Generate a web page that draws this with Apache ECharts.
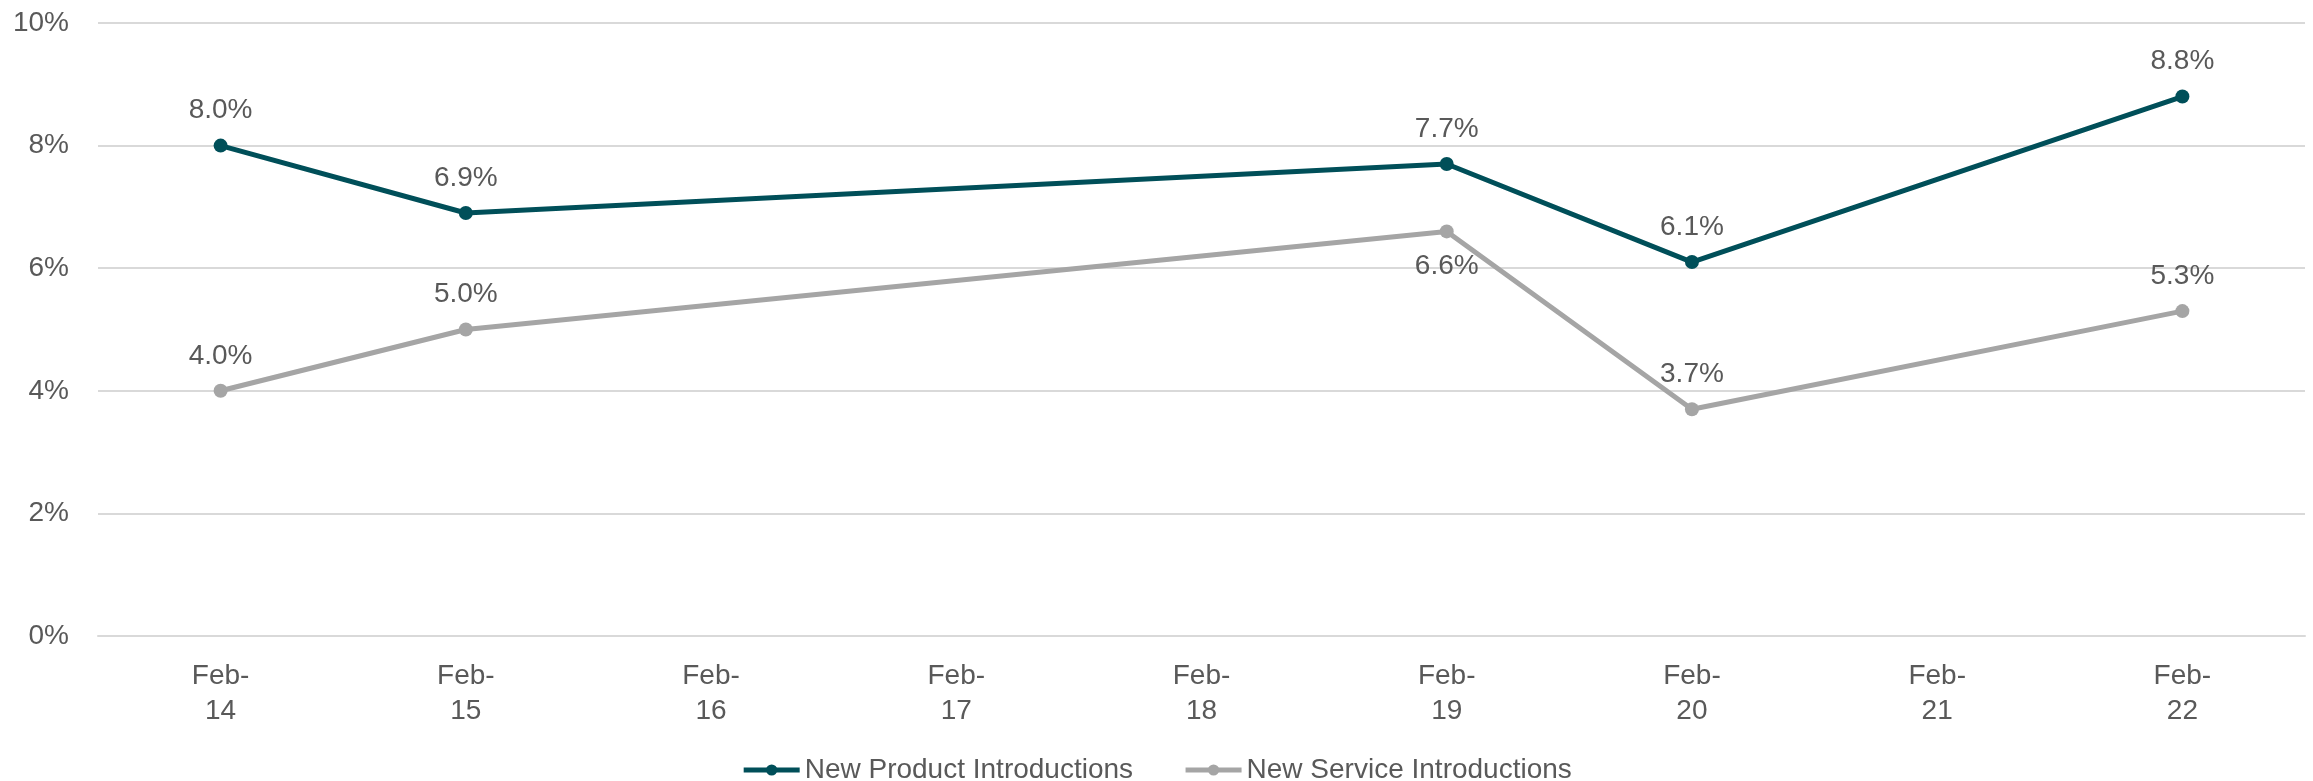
<!DOCTYPE html>
<html>
<head>
<meta charset="utf-8">
<script src="https://cdn.jsdelivr.net/npm/echarts@6/dist/echarts.min.js"></script>
<style>
html,body{margin:0;padding:0;background:#fff;}
#c{width:2313px;height:781px;}
</style>
</head>
<body>
<div id="c"></div>
<script>
const categories = ['Feb-14','Feb-15','Feb-16','Feb-17','Feb-18','Feb-19','Feb-20','Feb-21','Feb-22'];
const productValues = [8.0, 6.9, null, null, null, 7.7, 6.1, null, 8.8];
const serviceValues = [4.0, 5.0, null, null, null, 6.6, 3.7, null, 5.3];
const serviceLabelBelow = [false, false, false, false, false, true, false, false, false];
const yTicks = {min: 0, max: 10, interval: 2};

const FONT = '"Liberation Sans", Arial, sans-serif';
const FS = 28;
const TXT = '#595959';
const chart = echarts.init(document.getElementById('c'));

function labelData(vals, belowFlags){
  return vals.map((v,i)=> v===null ? null : ({
    value: v,
    label: {position: belowFlags[i] ? 'bottom' : 'top'}
  }));
}

chart.setOption({
  animation: false,
  textStyle: {fontFamily: FONT},
  grid: {left: 98, right: 8, top: 23, bottom: 145, containLabel: false},
  legend: {
    bottom: -8, left: 'center',
    itemWidth: 56, itemHeight: 14, itemGap: 50,
    lineStyle: {width: 5},
    textStyle: {fontFamily: FONT, fontSize: FS, color: TXT},
    data: ['New Product Introductions', 'New Service Introductions']
  },
  xAxis: {
    type: 'category', data: categories, boundaryGap: true,
    axisLine: {lineStyle: {color: '#D9D9D9', width: 2}},
    axisTick: {show: false},
    axisLabel: {
      fontFamily: FONT, fontSize: FS, color: TXT, margin: 23, lineHeight: 35,
      interval: 0,
      formatter: v => v.replace('-', '-\n')
    }
  },
  yAxis: {
    type: 'value', min: yTicks.min, max: yTicks.max, interval: yTicks.interval,
    axisLine: {show: false}, axisTick: {show: false},
    splitLine: {lineStyle: {color: '#D9D9D9', width: 2}},
    axisLabel: {fontFamily: FONT, fontSize: FS, color: TXT, margin: 29, formatter: '{value}%'}
  },
  series: [
    {
      name: 'New Product Introductions', type: 'line', connectNulls: true,
      data: labelData(productValues, productValues.map(()=>false)),
      symbol: 'circle', symbolSize: 14,
      lineStyle: {color: '#004F59', width: 5},
      itemStyle: {color: '#004F59'},
      label: {show: true, distance: 14, fontFamily: FONT, fontSize: FS, color: TXT,
        formatter: p => p.value.toFixed(1) + '%'}
    },
    {
      name: 'New Service Introductions', type: 'line', connectNulls: true,
      data: labelData(serviceValues, serviceLabelBelow),
      symbol: 'circle', symbolSize: 14,
      lineStyle: {color: '#A5A5A5', width: 5},
      itemStyle: {color: '#A5A5A5'},
      label: {show: true, distance: 14, fontFamily: FONT, fontSize: FS, color: TXT,
        formatter: p => p.value.toFixed(1) + '%'}
    }
  ]
});
</script>
</body>
</html>
